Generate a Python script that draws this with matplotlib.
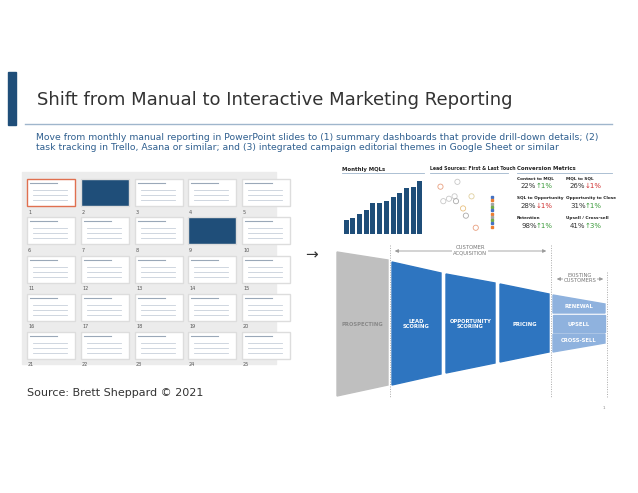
import matplotlib
matplotlib.use("Agg")
import matplotlib.pyplot as plt
from matplotlib.patches import Rectangle, Polygon

# monthly MQL bars (relative heights)
mql_months = list(range(1, 13))
mql_values = [43, 48, 60, 73, 93, 93, 100, 113, 123, 140, 143, 161]

# conversion metrics
metric_names = ["Contact to MQL", "MQL to SQL", "SQL to Opportunity",
                "Opportunity to Close", "Retention", "Upsell / Cross-sell"]
metric_values = ["22%", "26%", "28%", "31%", "98%", "41%"]
metric_changes = ["1%", "1%", "1%", "1%", "1%", "3%"]
metric_up = [True, False, False, True, True, True]

# funnel stages
stage_names = ["PROSPECTING", "LEAD\nSCORING", "OPPORTUNITY\nSCORING", "PRICING"]
existing_names = ["RENEWAL", "UPSELL", "CROSS-SELL"]

# slide thumbnails
slide_numbers = list(range(1, 26))
dark_slides = [2, 9]

W, H = 638, 493
fig = plt.figure(figsize=(W / 100, H / 100), dpi=100)
ax = fig.add_axes([0, 0, 1, 1])
ax.set_xlim(0, W)
ax.set_ylim(H, 0)
ax.axis("off")

navy = "#1f4e79"
blue = "#2e75c0"
light = "#8fb2de"

# title area
ax.add_patch(Rectangle((8, 72), 8, 53, color=navy))
ax.text(37, 100, "Shift from Manual to Interactive Marketing Reporting",
        fontsize=13, color="#333333", va="center")
ax.plot([25, 612], [124, 124], color="#9fb6cc", lw=1)
ax.text(36, 137, "Move from monthly manual reporting in PowerPoint slides to (1) summary dashboards that provide drill-down details; (2)",
        fontsize=6.7, color="#2f5f8f", va="center")
ax.text(36, 148, "task tracking in Trello, Asana or similar; and (3) integrated campaign editorial themes in Google Sheet or similar",
        fontsize=6.7, color="#2f5f8f", va="center")

# thumbnail grid
ax.add_patch(Rectangle((22, 172), 254, 192, color="#ececec"))
col_x = [27, 81, 135, 188, 242]
row_y = [179, 217, 256, 294, 332]
for i, n in enumerate(slide_numbers):
    x = col_x[i % 5]
    y = row_y[i // 5]
    fc = navy if n in dark_slides else "white"
    ec = "#e07050" if n == 1 else "#dddddd"
    ax.add_patch(Rectangle((x, y), 48, 27, fc=fc, ec=ec, lw=1))
    if n not in dark_slides:
        ax.plot([x + 3, x + 30], [y + 4, y + 4], color="#9aa8b8", lw=0.8)
        for k in range(3):
            ax.plot([x + 6, x + 40], [y + 11 + k * 5, y + 11 + k * 5], color="#c8d0da", lw=0.6)
    ax.text(x + 1, y + 33, str(n), fontsize=3.5, color="#555555", va="center")
ax.text(27, 393, "Source: Brett Sheppard © 2021", fontsize=8, color="#333333", va="center")

ax.text(312, 255, "→", fontsize=11, color="#333333", va="center", ha="center")

# dashboard headers
for x, label, w, fs in [(342, "Monthly MQLs", 82, 3.9), (430, "Lead Sources: First & Last Touch", 78, 3.3),
                        (517, "Conversion Metrics", 95, 3.9)]:
    ax.text(x, 169, label, fontsize=fs, fontweight="bold", color="#222222", va="center")
    ax.plot([x, x + w], [173, 173], color="#9fb6cc", lw=0.6)

# bar chart
bax = fig.add_axes([342 / W, 1 - 234 / H, 82 / W, 58 / H])
bax.bar(mql_months, mql_values, color=navy, width=0.75)
bax.set_xlim(0.4, 12.6)
bax.set_ylim(0, 175)
bax.axis("off")

# lead source scatter (simplified)
sax = fig.add_axes([432 / W, 1 - 235 / H, 48 / W, 58 / H])
sx = [3, 4, 6, 8, 9, 8.5, 11, 12, 14, 15.5]
sy = [9, 6, 6.5, 7, 10, 6, 4.5, 3, 7, 0.5]
sax.scatter(sx, sy, s=14, facecolors="none", edgecolors=["#e8a080", "#c8c8c8", "#c8c8c8", "#c8c8c8",
            "#c8c8c8", "#aaaaaa", "#e8c080", "#aaaaaa", "#e0d0a0", "#e8a080"], lw=0.6)
sax.set_xlim(0, 17)
sax.set_ylim(-1, 11)
sax.axis("off")
for k in range(10):
    ax.add_patch(Rectangle((491, 196 + k * 3.3), 2, 2, color=["#4472c4", "#ed7d31", "#a5a5a5", "#70ad47"][k % 4]))

# conversion metrics
for i, name in enumerate(metric_names):
    x = 517 if i % 2 == 0 else 566
    y = 178 + (i // 2) * 20
    ax.text(x, y, name, fontsize=3.1, fontweight="bold", color="#222222", va="center")
    ax.text(x + 4, y + 8, metric_values[i], fontsize=5, color="#333333", va="center")
    c = "#3a9a3a" if metric_up[i] else "#d03030"
    arrow = "↑" if metric_up[i] else "↓"
    ax.text(x + 19, y + 8, arrow + metric_changes[i], fontsize=5, color=c, va="center")

# funnel
funnel = [
    ((337, 388), (252, 260), (396, 385), "#bfbfbf", "#888888"),
    ((392, 441), (262, 273), (385, 374), blue, "white"),
    ((446, 495), (274, 283), (373, 363), blue, "white"),
    ((500, 549), (284, 294), (362, 352), blue, "white"),
]
for (x0, x1), (t0, t1), (b0, b1), c, tc in funnel:
    ax.add_patch(Polygon([(x0, t0), (x1, t1), (x1, b1), (x0, b0)], color=c))
for s, ((x0, x1), _, _, _, tc) in zip(stage_names, funnel):
    ax.text((x0 + x1) / 2, 324, s, fontsize=3.8, fontweight="bold", color=tc,
            ha="center", va="center")

ax.add_patch(Polygon([(553, 295), (605, 304), (605, 313), (553, 313)], color=light))
ax.add_patch(Rectangle((553, 315), 52, 17, color=light))
ax.add_patch(Polygon([(553, 334), (605, 334), (605, 343), (553, 352)], color=light))
for s, y in zip(existing_names, [307, 324, 341]):
    ax.text(579, y, s, fontsize=3.8, fontweight="bold", color="white", ha="center", va="center")

for x in [390, 551, 607]:
    top = 245 if x < 600 else 272
    ax.plot([x, x], [top, 398], color="#aaaaaa", lw=0.7, ls=(0, (1, 1.5)))
ax.annotate("", xy=(392, 251), xytext=(549, 251),
            arrowprops=dict(arrowstyle="<|-|>", color="#999999", lw=0.6, mutation_scale=5))
ax.text(470, 250, "CUSTOMER\nACQUISITION", fontsize=3.8, color="#777777", ha="center", va="center",
        bbox=dict(fc="white", ec="none", pad=0.5), linespacing=1.1)
ax.annotate("", xy=(554, 279), xytext=(606, 279),
            arrowprops=dict(arrowstyle="<|-|>", color="#999999", lw=0.6, mutation_scale=5))
ax.text(580, 278, "EXISTING\nCUSTOMERS", fontsize=3.8, color="#777777", ha="center", va="center",
        bbox=dict(fc="white", ec="none", pad=0.5), linespacing=1.1)

ax.text(604, 408, "1", fontsize=3, color="#888888", ha="center", va="center")

fig.savefig("out.png", dpi=100)
